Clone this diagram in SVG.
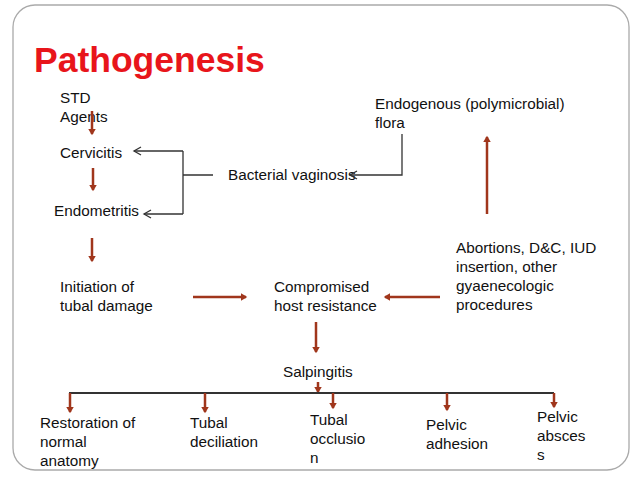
<svg xmlns="http://www.w3.org/2000/svg" width="638" height="478" viewBox="0 0 638 478">
<style>
text{font-family:"Liberation Sans",Arial,sans-serif;font-size:15.3px;fill:#111}
.r{stroke:#a0361c;stroke-width:2.5;fill:none;marker-end:url(#ra)}
.k{stroke:#333;stroke-width:1.3;fill:none}
.ka{marker-end:url(#ka)}
</style>
<defs>
<marker id="ra" markerWidth="4" markerHeight="4" refX="2" refY="2" orient="auto" markerUnits="strokeWidth"><path d="M0,0.5L2.5,2L0,3.5z" fill="#a0361c"/></marker>
<marker id="ka" markerWidth="10" markerHeight="10" refX="8" refY="5" orient="auto" markerUnits="userSpaceOnUse"><path d="M1,1L8,5L1,9" fill="none" stroke="#333" stroke-width="1.3"/></marker>
</defs>
<rect x="0" y="0" width="638" height="478" fill="#fff"/>
<rect x="13" y="5" width="616" height="465" rx="22" fill="none" stroke="#aaa" stroke-width="1.3"/>
<text x="34" y="72" style="font-size:35.5px;font-weight:bold;fill:#e8151b">Pathogenesis</text>
<g id="std"><text x="60" y="103">STD</text><text x="60" y="122">Agents</text></g>
<g id="cervicitis"><text x="60" y="158">Cervicitis</text></g>
<g id="endometritis"><text x="54" y="216">Endometritis</text></g>
<g id="bv"><text x="228" y="180">Bacterial vaginosis</text></g>
<g id="endogenous"><text x="375" y="109">Endogenous (polymicrobial)</text><text x="375" y="128">flora</text></g>
<g id="abortions"><text x="456" y="253">Abortions, D&amp;C, IUD</text><text x="456" y="272">insertion, other</text><text x="456" y="291">gyaenecologic</text><text x="456" y="310">procedures</text></g>
<g id="initiation"><text x="60" y="292">Initiation of</text><text x="60" y="311">tubal damage</text></g>
<g id="compromised"><text x="274" y="292">Compromised</text><text x="274" y="311">host resistance</text></g>
<g id="salpingitis"><text x="283" y="377">Salpingitis</text></g>
<g id="restoration"><text x="40" y="428">Restoration of</text><text x="40" y="447">normal</text><text x="40" y="466">anatomy</text></g>
<g id="deciliation"><text x="190" y="428">Tubal</text><text x="190" y="447">deciliation</text></g>
<g id="occlusion"><text x="310" y="425">Tubal</text><text x="310" y="444">occlusio</text><text x="310" y="463">n</text></g>
<g id="adhesion"><text x="426" y="430">Pelvic</text><text x="426" y="449">adhesion</text></g>
<g id="abscess"><text x="537" y="422">Pelvic</text><text x="537" y="441">absces</text><text x="537" y="460">s</text></g>
<g id="connectors">
<path class="r" d="M92,111V134"/>
<path class="r" d="M93,168V190"/>
<path class="r" d="M92,238V261"/>
<path class="k" d="M213,175H183M183,151V214"/>
<path class="k ka" d="M183,151H134"/>
<path class="k ka" d="M183,214H144"/>
<path class="k ka" d="M402,134V175H350"/>
<path class="r" d="M487,214V137"/>
<path class="r" d="M193,297H246"/>
<path class="r" d="M440,297H385"/>
<path class="r" d="M316,322V352"/>
<path class="r" d="M318,382V392"/>
<path d="M69,393H554" stroke="#333" stroke-width="2"/>
<path class="r" d="M70,393V412"/>
<path class="r" d="M205,393V412"/>
<path class="r" d="M333,393V408"/>
<path class="r" d="M447,393V410"/>
<path class="r" d="M554,393V407"/>
</g>
</svg>
